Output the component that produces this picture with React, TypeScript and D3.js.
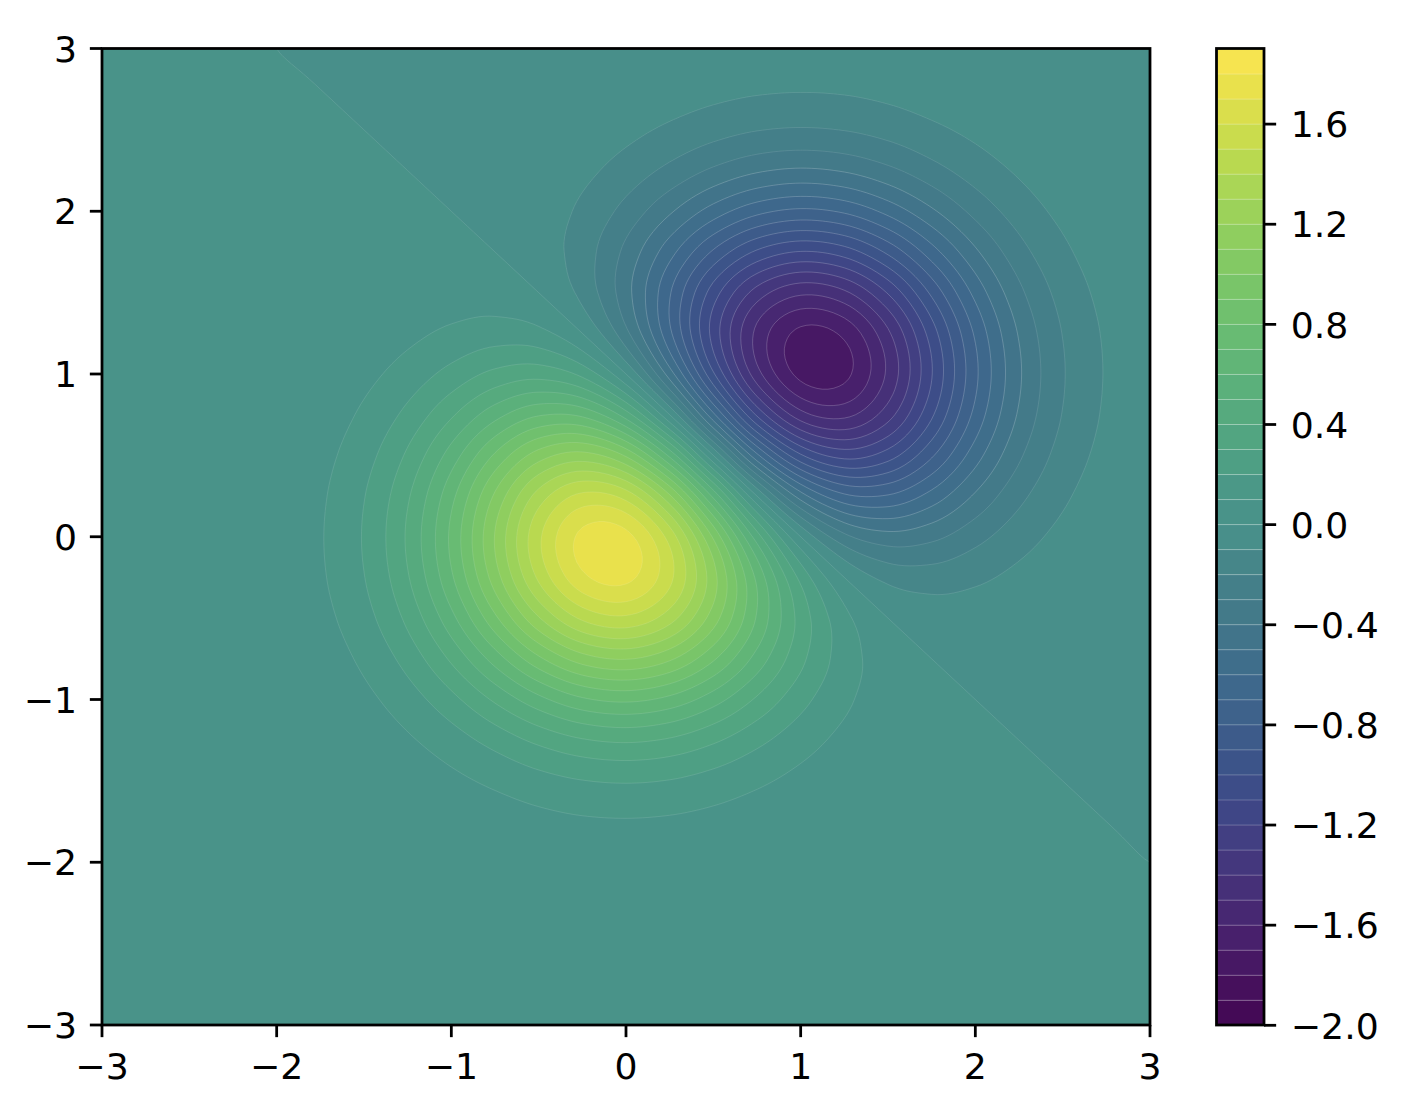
import React, { useMemo } from "react";
import * as d3 from "d3";

// Field values, on a 0.25 grid. x and y both run -3..3; first row is y = -3.
const gridX = [-3,-2.75,-2.5,-2.25,-2,-1.75,-1.5,-1.25,-1,-0.75,-0.5,-0.25,0,0.25,0.5,0.75,1,1.25,1.5,1.75,2,2.25,2.5,2.75,3];
const gridY = gridX;
const fieldRows = [
[.001,.001,.001,.001,.001,.001,.001,.001,.001,.001,.001,.001,.001,.001,.001,.001,.001,.001,.001,.001,.001,.001,.001,.001,.001],
[.001,.001,.001,.001,.001,.001,.001,.001,.001,.001,.001,.001,.001,.001,.001,.001,.001,.001,.001,.001,.001,.001,.001,.001,.001],
[.001,.001,.001,.001,.001,.001,.001,.001,.001,.002,.003,.004,.004,.004,.003,.002,.001,.001,.001,.001,.001,.001,.001,.001,.001],
[.001,.001,.001,.001,.001,.001,.001,.003,.005,.007,.010,.012,.013,.012,.010,.007,.005,.003,.001,.001,.001,.001,.001,.001,.001],
[.001,.001,.001,.001,.001,.002,.004,.008,.013,.021,.028,.034,.036,.034,.028,.021,.013,.007,.004,.002,.001,.001,.001,.001,0],
[.001,.001,.001,.001,.002,.004,.010,.020,.034,.053,.073,.088,.093,.087,.072,.052,.033,.019,.009,.004,.001,.001,.001,0,-.001],
[.001,.001,.001,.001,.004,.010,.022,.044,.078,.120,.164,.197,.209,.196,.161,.117,.074,.041,.019,.008,.003,.001,0,-.001,-.001],
[.001,.001,.001,.003,.008,.020,.044,.088,.154,.238,.325,.391,.415,.387,.317,.227,.142,.076,.034,.012,.003,0,-.001,-.001,-.001],
[.001,.001,.001,.005,.013,.034,.077,.154,.270,.418,.569,.684,.722,.670,.545,.385,.234,.120,.049,.014,0,-.003,-.003,-.001,-.001],
[.001,.001,.002,.007,.021,.053,.120,.238,.418,.645,.878,1.051,1.105,1.017,.815,.562,.326,.151,.047,0,-.014,-.012,-.008,-.004,-.002],
[.001,.001,.003,.010,.028,.073,.164,.325,.569,.878,1.191,1.419,1.480,1.343,1.049,.690,.362,.129,0,-.047,-.049,-.034,-.019,-.009,-.004],
[.001,.001,.004,.012,.034,.088,.197,.391,.684,1.051,1.419,1.677,1.725,1.526,1.137,.677,.272,0,-.129,-.151,-.120,-.076,-.041,-.019,-.008],
[.001,.001,.004,.013,.036,.093,.209,.415,.722,1.105,1.480,1.725,1.729,1.460,.985,.448,0,-.272,-.362,-.326,-.234,-.142,-.074,-.033,-.013],
[.001,.001,.004,.012,.034,.087,.196,.387,.670,1.017,1.343,1.526,1.460,1.116,.576,0,-.448,-.677,-.690,-.562,-.385,-.227,-.117,-.052,-.021],
[.001,.001,.003,.010,.028,.072,.161,.317,.545,.815,1.049,1.137,.985,.576,0,-.576,-.985,-1.137,-1.049,-.815,-.545,-.317,-.161,-.072,-.028],
[.001,.001,.002,.007,.021,.052,.117,.227,.385,.562,.690,.677,.448,0,-.576,-1.116,-1.460,-1.526,-1.343,-1.017,-.670,-.387,-.196,-.087,-.034],
[.001,.001,.001,.005,.013,.033,.074,.142,.234,.326,.362,.272,0,-.448,-.985,-1.460,-1.729,-1.725,-1.480,-1.105,-.722,-.415,-.209,-.093,-.036],
[.001,.001,.001,.003,.008,.019,.041,.076,.120,.151,.129,0,-.272,-.677,-1.137,-1.526,-1.725,-1.677,-1.419,-1.051,-.684,-.391,-.197,-.088,-.034],
[.001,.001,.001,.001,.004,.009,.019,.034,.049,.047,0,-.129,-.362,-.690,-1.049,-1.343,-1.480,-1.419,-1.191,-.878,-.569,-.325,-.164,-.073,-.028],
[.001,.001,.001,.001,.002,.004,.008,.012,.014,0,-.047,-.151,-.326,-.562,-.815,-1.017,-1.105,-1.051,-.878,-.645,-.418,-.238,-.120,-.053,-.021],
[.001,.001,.001,.001,.001,.001,.003,.003,0,-.014,-.049,-.120,-.234,-.385,-.545,-.670,-.722,-.684,-.569,-.418,-.270,-.154,-.077,-.034,-.013],
[.001,.001,.001,.001,.001,.001,.001,0,-.003,-.012,-.034,-.076,-.142,-.227,-.317,-.387,-.415,-.391,-.325,-.238,-.154,-.088,-.044,-.020,-.008],
[.001,.001,.001,.001,.001,.001,0,-.001,-.003,-.008,-.019,-.041,-.074,-.117,-.161,-.196,-.209,-.197,-.164,-.120,-.078,-.044,-.022,-.010,-.004],
[.001,.001,.001,.001,.001,0,-.001,-.001,-.001,-.004,-.009,-.019,-.033,-.052,-.072,-.087,-.093,-.088,-.073,-.053,-.034,-.020,-.010,-.004,-.002],
[.001,.001,.001,.001,0,-.001,-.001,-.001,-.001,-.002,-.004,-.007,-.013,-.021,-.028,-.034,-.036,-.034,-.028,-.021,-.013,-.008,-.004,-.002,-.001],
];
const levels = [-2,-1.9,-1.8,-1.7,-1.6,-1.5,-1.4,-1.3,-1.2,-1.1,-1,-0.9,-0.8,-0.7,-0.6,-0.5,-0.4,-0.3,-0.2,-0.1,0,0.1,0.2,0.3,0.4,0.5,0.6,0.7,0.8,0.9,1,1.1,1.2,1.3,1.4,1.5,1.6,1.7,1.8,1.9];
// One colour per band, as seen on the reference colour bar, from the lowest band up.
const bandColors = [
"rgb(68,10,86)","rgb(70,16,92)","rgb(71,24,100)","rgb(72,32,108)","rgb(71,40,114)","rgb(70,48,120)","rgb(68,55,125)","rgb(66,63,130)",
"rgb(63,70,134)","rgb(61,77,136)","rgb(60,84,137)","rgb(61,91,138)","rgb(62,98,139)","rgb(62,104,140)","rgb(63,110,139)","rgb(65,116,138)",
"rgb(67,122,137)","rgb(68,127,137)","rgb(70,134,137)","rgb(72,143,138)","rgb(73,147,137)","rgb(75,152,135)","rgb(78,159,132)","rgb(82,165,129)",
"rgb(86,170,126)","rgb(91,176,123)","rgb(97,181,119)","rgb(104,187,115)","rgb(112,192,110)","rgb(121,197,105)","rgb(131,201,100)","rgb(143,206,95)",
"rgb(156,210,90)","rgb(170,214,86)","rgb(185,217,80)","rgb(202,220,77)","rgb(218,222,76)","rgb(233,225,76)","rgb(246,228,80)",
];
const xTicks = [-3,-2,-1,0,1,2,3];
const yTicks = [-3,-2,-1,0,1,2,3];
const barTicks = [-2,-1.6,-1.2,-0.8,-0.4,0,0.4,0.8,1.2,1.6];

const FONT = "'DejaVu Sans'";
const FS = 36.2;
const TICK = 12.15;
const LW = 2.78;
const minus = (s: string) => s.replace("-", "\u2212");

// Smooth resampling of the grid, for round contours.
function cr(p0: number, p1: number, p2: number, p3: number, t: number) {
  return 0.5 * (2 * p1 + (p2 - p0) * t + (2 * p0 - 5 * p1 + 4 * p2 - p3) * t * t + (3 * p1 - p0 - 3 * p2 + p3) * t * t * t);
}
function resample(rows: number[][], f: number) {
  const n = rows.length;
  const m = (n - 1) * f + 1;
  const at = (i: number, j: number) => rows[Math.max(0, Math.min(n - 1, j))][Math.max(0, Math.min(n - 1, i))];
  const out = new Float64Array(m * m);
  for (let b = 0; b < m; b++) {
    const j = Math.min(Math.floor(b / f), n - 2), v = b / f - j;
    for (let a = 0; a < m; a++) {
      const i = Math.min(Math.floor(a / f), n - 2), u = a / f - i;
      const col = [-1, 0, 1, 2].map((d) => cr(at(i - 1, j + d), at(i, j + d), at(i + 1, j + d), at(i + 2, j + d), u));
      out[b * m + a] = cr(col[0], col[1], col[2], col[3], v);
    }
  }
  return { values: out, m };
}

export default function App() {
  const L = 102, R = 1150, T = 48.5, B = 1025;
  const BL = 1216.5, BR = 1264;
  const sx = d3.scaleLinear().domain([-3, 3]).range([L, R]);
  const sy = d3.scaleLinear().domain([-3, 3]).range([B, T]);
  const sb = d3.scaleLinear().domain([-2, 1.9]).range([B + 0.3, T + 0.5]);

  const paths = useMemo(() => {
    const { values, m } = resample(fieldRows, 8);
    const contours = d3.contours().size([m, m]).thresholds(levels.slice(0, -1).map((l) => l + 1e-7))(values as any);
    const gx = d3.scaleLinear().domain([0.5, m - 0.5]).range([gridX[0], gridX[gridX.length - 1]]);
    const gy = d3.scaleLinear().domain([0.5, m - 0.5]).range([gridY[0], gridY[gridY.length - 1]]);
    const geo = d3.geoPath(
      d3.geoTransform({
        point(x: number, y: number) {
          (this as any).stream.point(sx(gx(x)), sy(gy(y)));
        },
      })
    );
    return contours.map((c) => geo(c as any) || "");
  }, []);

  const text = { fontFamily: FONT, fontSize: FS, fill: "#000" };
  return (
    <svg width={1406} height={1094} style={{ position: "absolute", left: 0, top: 0, background: "#fff" }}>
      <defs>
        <clipPath id="ax">
          <rect x={L} y={T} width={R - L} height={B - T} />
        </clipPath>
      </defs>
      <g clipPath="url(#ax)">
        <rect x={L} y={T} width={R - L} height={B - T} fill={bandColors[0]} />
        {paths.map((d, i) => (
          <path key={i} d={d} fill={bandColors[i]} fillRule="evenodd" stroke="none" />
        ))}
        {paths.map((d, i) => (
          <path key={i} d={d} fill="none" stroke="#fff" strokeOpacity={levels[i] < -0.3 ? 0.2 : 0.11} strokeWidth={1} />
        ))}
      </g>
      <rect x={L} y={T} width={R - L} height={B - T} fill="none" stroke="#000" strokeWidth={LW} />
      {xTicks.map((t) => (
        <g key={t}>
          <line x1={sx(t)} x2={sx(t)} y1={B} y2={B + TICK} stroke="#000" strokeWidth={LW} />
          <text x={sx(t)} y={1079} textAnchor="middle" {...text}>{minus(String(t))}</text>
        </g>
      ))}
      {yTicks.map((t) => (
        <g key={t}>
          <line x1={L - TICK} x2={L} y1={sy(t)} y2={sy(t)} stroke="#000" strokeWidth={LW} />
          <text x={77} y={sy(t) + 13.2} textAnchor="end" {...text}>{minus(String(t))}</text>
        </g>
      ))}
      {levels.slice(0, -1).map((l, i) => (
        <rect key={l} x={BL} width={BR - BL} y={sb(levels[i + 1])} height={sb(l) - sb(levels[i + 1])} fill={bandColors[i]} />
      ))}
      {levels.slice(1, -1).map((l) => (
        <line key={l} x1={BL} x2={BR} y1={sb(l)} y2={sb(l)} stroke="#fff" strokeOpacity={0.22} strokeWidth={1} />
      ))}
      <rect x={BL} y={T} width={BR - BL} height={B - T} fill="none" stroke="#000" strokeWidth={LW} />
      {barTicks.map((t) => (
        <g key={t}>
          <line x1={BR} x2={BR + TICK} y1={sb(t)} y2={sb(t)} stroke="#000" strokeWidth={LW} />
          <text x={1290.8} y={sb(t) + 13.2} {...text}>{minus(t.toFixed(1))}</text>
        </g>
      ))}
    </svg>
  );
}
